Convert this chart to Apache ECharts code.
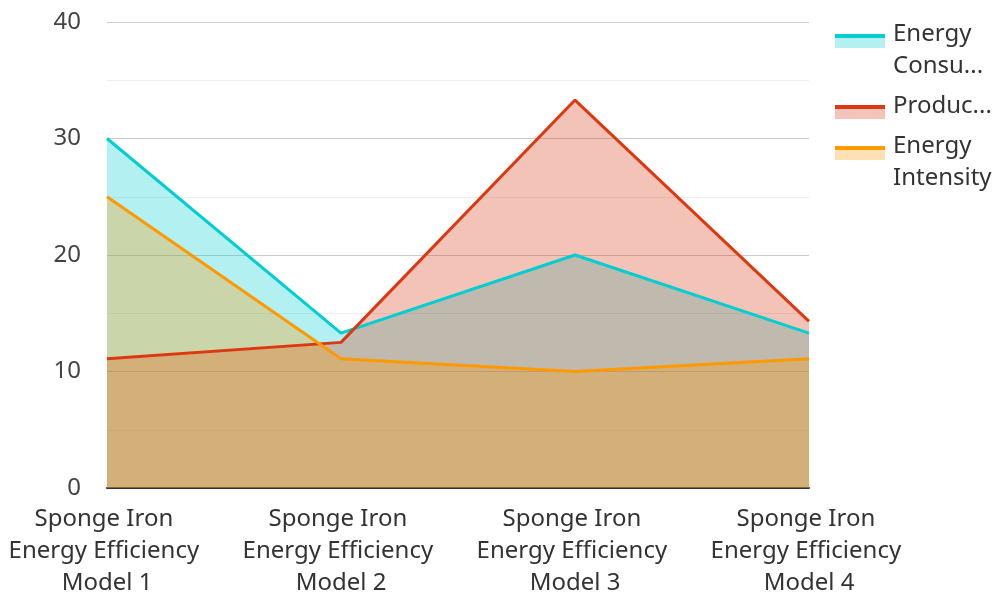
<!DOCTYPE html>
<html>
<head>
<meta charset="utf-8">
<script src="https://cdn.jsdelivr.net/npm/echarts@6/dist/echarts.min.js"></script>
<style>html,body{margin:0;padding:0;background:#fff;}#c{width:998px;height:594px;}</style>
</head>
<body>
<div id="c"></div>
<script>
var categories = [
  "Sponge Iron Energy Efficiency Model 1",
  "Sponge Iron Energy Efficiency Model 2",
  "Sponge Iron Energy Efficiency Model 3",
  "Sponge Iron Energy Efficiency Model 4"
];
var seriesNames = ["Energy Consumption", "Production", "Energy Intensity"];
var energyConsumption = [30, 13.3, 20, 13.3];
var production = [11.1, 12.5, 33.3, 14.3];
var energyIntensity = [25, 11.1, 10, 11.1];
var colors = ["#00CED1", "#DC3912", "#FF9900"];
var yTicks = [0, 10, 20, 30, 40];

var FONT = "Noto Sans";
var chart = echarts.init(document.getElementById('c'));

var IW = 53, IH = 32, LINE_H = 4, SWATCH_H = 14;
function lighten(hex) {
  var r = parseInt(hex.substr(1,2),16), g = parseInt(hex.substr(3,2),16), b = parseInt(hex.substr(5,2),16);
  var f = function(v){ return Math.round(v*0.3 + 255*0.7); };
  return 'rgb(' + f(r) + ',' + f(g) + ',' + f(b) + ')';
}
// legend swatch: thick line on top of a light area block, placed at offset `top` in a IW x IH box
function legendIcon(top) {
  var b = top + SWATCH_H;
  return 'path://M0 0 L' + IW + ' 0 Z M0 ' + top + ' L50 ' + top + ' L50 ' + b + ' L0 ' + b +
    ' Z M0 ' + IH + ' L' + IW + ' ' + IH + ' Z';
}
function legendFill(c, top) {
  var a = top / IH, m = (top + LINE_H) / IH, e = (top + SWATCH_H) / IH;
  var light = lighten(c);
  return new echarts.graphic.LinearGradient(0, 0, 0, 1, [
    {offset: 0, color: c}, {offset: m, color: c},
    {offset: m, color: light}, {offset: 1, color: light}
  ]);
}
var dataSets = [energyConsumption, production, energyIntensity];
var series = dataSets.map(function (d, i) {
  return {
    name: seriesNames[i],
    type: 'line',
    data: d,
    symbol: 'none',
    lineStyle: {color: colors[i], width: 3},
    itemStyle: {color: colors[i]},
    areaStyle: {color: colors[i], opacity: 0.3},
    emphasis: {disabled: true}
  };
});
var legendData = seriesNames.map(function (n, i) {
  var top = n.indexOf(' ') >= 0 ? 0 : 15;
  return {name: n, icon: legendIcon(top), itemStyle: {color: legendFill(colors[i], top), borderWidth: 0}};
});

chart.setOption({
  animation: false,
  color: colors,
  textStyle: {fontFamily: FONT},
  grid: {left: 107, right: 189, top: 22, bottom: 106, outerBoundsMode: 'none', containLabel: false},
  legend: {
    orient: 'vertical',
    left: 830,
    top: 13,
    itemWidth: IW,
    itemHeight: IH,
    itemGap: 8,
    formatter: function (n) { return n.split(' ').join('\n'); },
    textStyle: {fontFamily: FONT, fontSize: 24, color: '#333', lineHeight: 32, width: 104, overflow: 'truncate'},
    data: legendData
  },
  xAxis: {
    type: 'category',
    data: categories,
    boundaryGap: false,
    axisLine: {lineStyle: {color: '#333', width: 2}},
    axisTick: {show: false},
    axisLabel: {
      interval: 0,
      margin: 15,
      fontFamily: FONT, fontSize: 24, color: '#333', lineHeight: 32,
      width: 200, overflow: 'break'
    },
    splitLine: {show: false}
  },
  yAxis: {
    type: 'value',
    min: yTicks[0],
    max: yTicks[yTicks.length - 1],
    interval: 10,
    axisLine: {show: false},
    axisTick: {show: false},
    axisLabel: {margin: 26, fontFamily: FONT, fontSize: 24, color: '#444'},
    splitLine: {lineStyle: {color: '#ccc', width: 1}},
    minorTick: {show: false, splitNumber: 2},
    minorSplitLine: {show: true, lineStyle: {color: '#eee', width: 1}}
  },
  series: series
});
</script>
</body>
</html>
